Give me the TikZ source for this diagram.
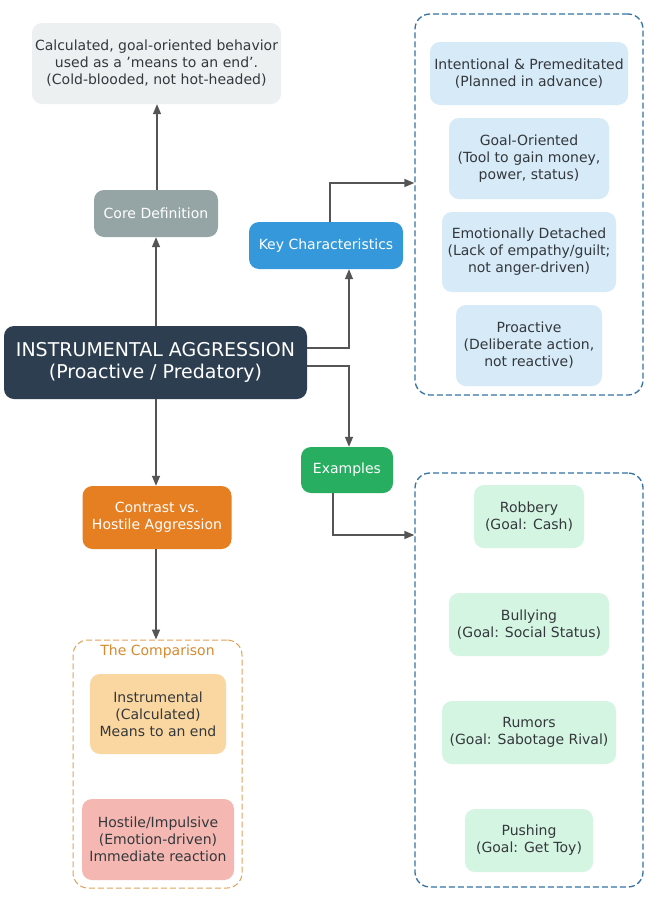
\documentclass[tikz,border=0pt]{standalone}
\usepackage{fontspec}
\setmainfont{DejaVu Sans}
\usetikzlibrary{arrows.meta}
\definecolor{txt}{HTML}{34383C}
\definecolor{defc}{HTML}{ECF0F1}
\definecolor{corec}{HTML}{95A5A6}
\definecolor{kcc}{HTML}{3498DB}
\definecolor{mainc}{HTML}{2C3E50}
\definecolor{exc}{HTML}{27AE60}
\definecolor{conc}{HTML}{E67E22}
\definecolor{instc}{HTML}{FAD7A0}
\definecolor{hostc}{HTML}{F5B7B1}
\definecolor{lblue}{HTML}{D6EAF8}
\definecolor{lgreen}{HTML}{D5F5E3}
\definecolor{dblue}{HTML}{3572A5}
\definecolor{dorange}{HTML}{E0A25A}
\definecolor{torange}{HTML}{D68A2E}
\definecolor{arrc}{HTML}{555555}
\newcommand{\fs}{\fontsize{14}{17}\selectfont}
\begin{document}
\begin{tikzpicture}[x=1pt,y=-1pt,
  box/.style={rounded corners=10pt, align=center, inner sep=0pt, font=\fs, text=txt},
  dark/.style={box, text=white},
  cont/.style={rounded corners=15pt, dashed, dash pattern=on 6pt off 3pt, line width=1.3pt, inner sep=0pt},
  arr/.style={draw=arrc, line width=1.5pt, -{Triangle[length=10pt,width=8pt]}}
]
\useasboundingbox[fill=white] (0,0) rectangle (667,900);
% containers
\node[cont, draw=dblue, minimum width=228pt, minimum height=381pt] (kcbox) at (529,204.5) {};
\node[cont, draw=dblue, minimum width=228pt, minimum height=414pt] (exbox) at (529,680) {};
\node[cont, draw=dorange, line width=1pt, minimum width=169pt, minimum height=248pt] (cmpbox) at (157.5,764) {};
% main nodes
\node[box, fill=defc, minimum width=249pt, minimum height=81pt] (def) at (156.5,63.5) {Calculated, goal-oriented behavior\\used as a 'means to an end'.\\(Cold-blooded, not hot-headed)};
\node[dark, fill=corec, minimum width=124pt, minimum height=47pt] (core) at (156,213.5) {Core Definition};
\node[dark, fill=kcc, minimum width=154pt, minimum height=47pt] (kc) at (326,245.5) {Key Characteristics};
\node[dark, fill=mainc, minimum width=303pt, minimum height=73pt, font=\fontsize{19}{22}\selectfont] (main) at (155.5,362.5) {INSTRUMENTAL AGGRESSION\\(Proactive / Predatory)};
\node[dark, fill=exc, minimum width=92pt, minimum height=46pt] (ex) at (347,470) {Examples};
\node[dark, fill=conc, minimum width=149pt, minimum height=63pt] (con) at (157,517.5) {Contrast vs.\\Hostile Aggression};
% comparison
\node[font=\fs, text=torange] (cmpt) at (157.5,652) {The Comparison};
\node[box, fill=instc, minimum width=136pt, minimum height=80pt] (inst) at (158,714) {Instrumental\\(Calculated)\\Means to an end};
\node[box, fill=hostc, minimum width=152pt, minimum height=81pt] (host) at (158,839.5) {Hostile/Impulsive\\(Emotion-driven)\\Immediate reaction};
% characteristics
\node[box, fill=lblue, minimum width=198pt, minimum height=63pt] (k1) at (529,73.5) {Intentional \& Premeditated\\(Planned in advance)};
\node[box, fill=lblue, minimum width=160pt, minimum height=81pt] (k2) at (529,158.5) {Goal-Oriented\\(Tool to gain money,\\power, status)};
\node[box, fill=lblue, minimum width=174pt, minimum height=80pt] (k3) at (529,252) {Emotionally Detached\\(Lack of empathy/guilt;\\not anger-driven)};
\node[box, fill=lblue, minimum width=146pt, minimum height=81pt] (k4) at (529,345.5) {Proactive\\(Deliberate action,\\not reactive)};
% examples
\node[box, fill=lgreen, minimum width=110pt, minimum height=63pt] (e1) at (529,516.5) {Robbery\\(Goal: Cash)};
\node[box, fill=lgreen, minimum width=160pt, minimum height=63pt] (e2) at (529,624.5) {Bullying\\(Goal: Social Status)};
\node[box, fill=lgreen, minimum width=174pt, minimum height=63pt] (e3) at (529,732.5) {Rumors\\(Goal: Sabotage Rival)};
\node[box, fill=lgreen, minimum width=128pt, minimum height=63pt] (e4) at (529,840.5) {Pushing\\(Goal: Get Toy)};
% connectors
\draw[arr] (main.north -| core.south) -- (core.south);
\draw[arr] ([xshift=1pt]core.north) -- ([xshift=1pt]def.south -| core.north);
\draw[arr] ([yshift=14.5pt]main.east) -| ([xshift=23pt]kc.south);
\draw[arr] ([xshift=4pt]kc.north) |- ([yshift=21.5pt]kcbox.west);
\draw[arr] ([yshift=-3.5pt]main.east) -| ([xshift=2pt]ex.north);
\draw[arr] ([xshift=-14pt]ex.south) |- ([yshift=145pt]exbox.west);
\draw[arr] ([xshift=-1pt]main.south -| con.north) -- ([xshift=-1pt]con.north);
\draw[arr] ([xshift=-1pt]con.south) -- ([xshift=-1pt]con.south |- cmpbox.north);
\end{tikzpicture}
\end{document}
